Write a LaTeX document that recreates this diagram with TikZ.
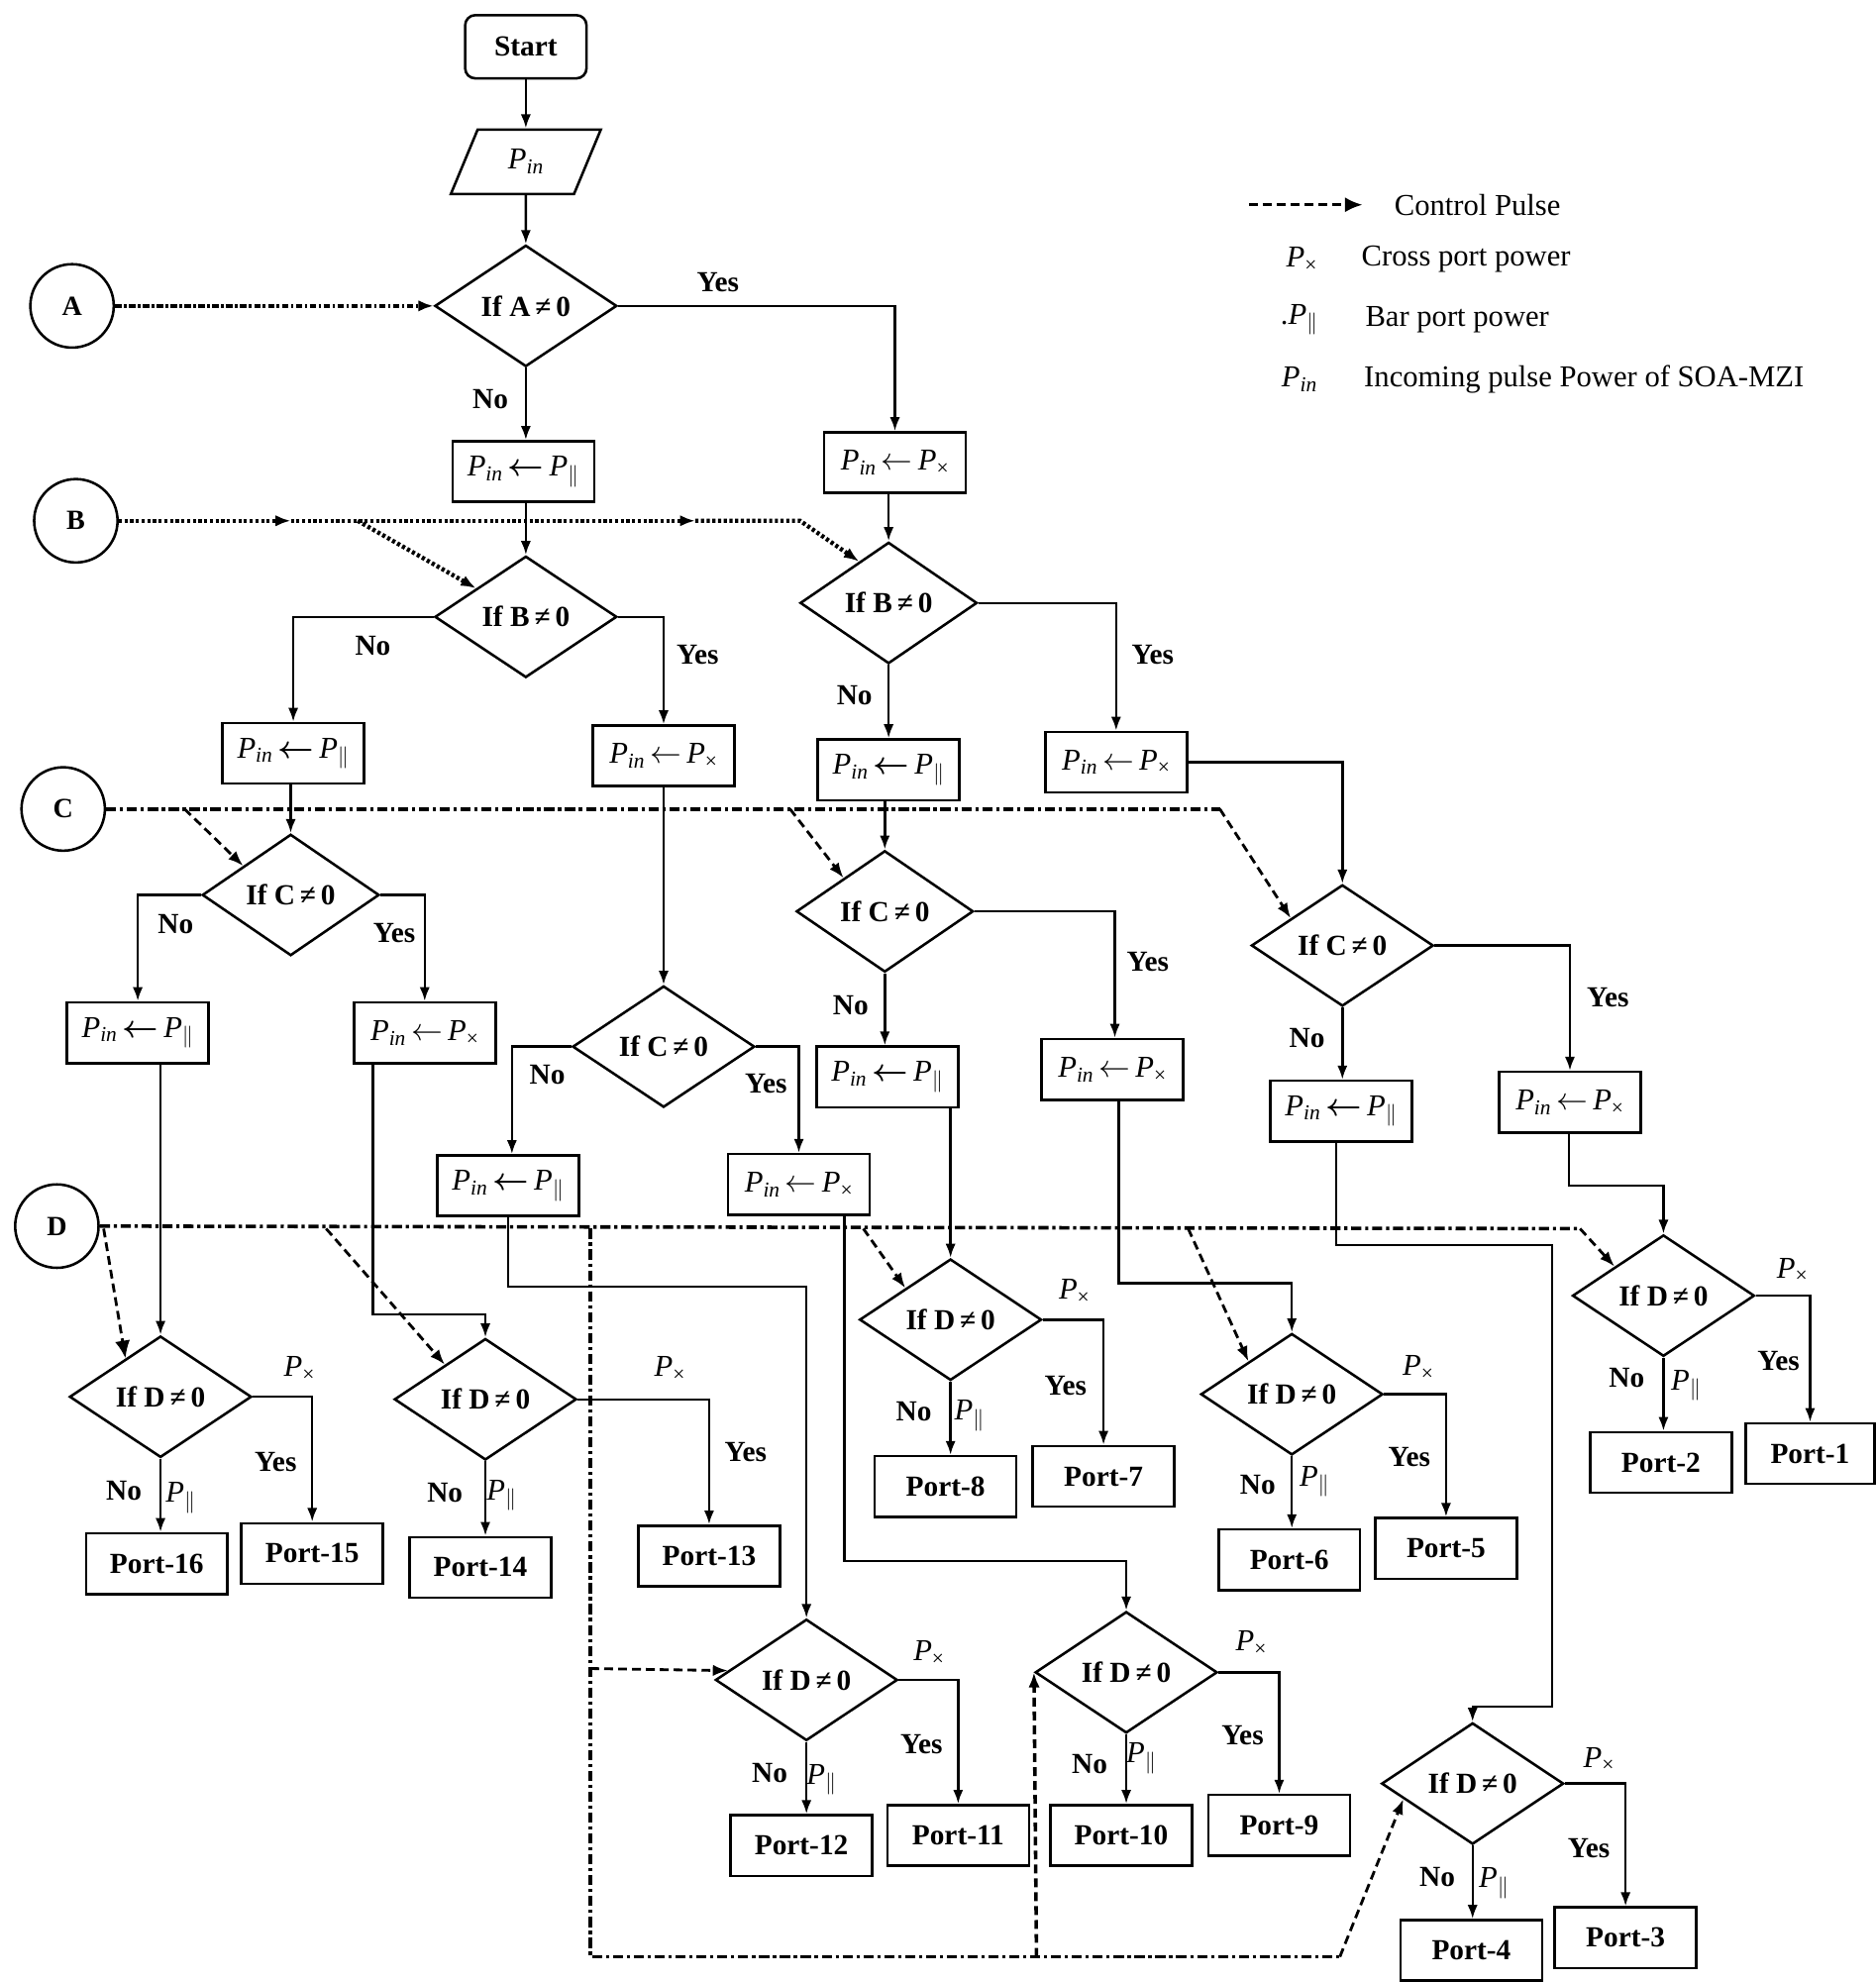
\documentclass[tikz,border=0pt]{standalone}
\usepackage{fontspec}
\setmainfont{Liberation Serif}
\usetikzlibrary{shapes.geometric,arrows.meta,calc}

% power symbols
\newcommand{\Pin}{\textit{P}\textsubscript{\textit{in}}}
\newcommand{\Pcr}{\textit{P}\textsubscript{×}}
\newcommand{\Pbr}{\textit{P}\textsubscript{$\|$}}
\newcommand{\asgx}{\Pin\,$\leftarrow$\,\Pcr}
\newcommand{\asgb}{\Pin\,{\boldmath$\leftarrow$}\,\Pbr}

\begin{document}
\begin{tikzpicture}[x=1pt,y=-1pt,
  lbl/.style={font=\fontsize{23}{26}\selectfont\bfseries,inner sep=1pt},
  sym/.style={font=\fontsize{24}{26}\selectfont,inner sep=1pt},
  tip/.style={-{Latex[length=11pt,width=8pt]}},
  flow/.style={line width=1.9pt,tip},
  proc/.style={draw,line width=2pt,minimum width=112pt,minimum height=48pt,inner sep=0pt,
    font=\fontsize{24}{26}\selectfont},
  port/.style={draw,line width=2pt,minimum width=112pt,minimum height=48pt,inner sep=0pt,
    font=\fontsize{23}{26}\selectfont\bfseries},
  dec/.style={draw,diamond,line width=2pt,minimum width=144pt,minimum height=96pt,inner sep=0pt,
    font=\fontsize{23}{26}\selectfont\bfseries},
  conn/.style={draw,circle,line width=2pt,minimum size=66pt,inner sep=0pt,
    font=\fontsize{22}{24}\selectfont\bfseries},
  ctrlA/.style={line width=3pt,dash pattern=on 5pt off 2pt on 2pt off 2pt},
  ctrlB/.style={line width=3.4pt,dash pattern=on 2.5pt off 2pt},
  ctrlC/.style={line width=2.8pt,dash pattern=on 8pt off 3pt on 2.5pt off 3pt},
  ctrlS/.style={line width=2.2pt,dash pattern=on 7pt off 4pt},
  ctip/.style={-{Latex[length=12pt,width=9pt]}},
]
\useasboundingbox (0,0) rectangle (1484,1568);

% ---------- legend ----------
\coordinate (lg0) at (988,162);
\coordinate (lg1) at (1078,162);
\draw[ctrlS,line width=2.6pt,-{Latex[length=14pt,width=12pt]}] (lg0) -- (lg1);
\node[sym,anchor=west] (lgt1) at (1102,162) {Control Pulse};
\node[sym] (lgs2) at (1030,205) {\Pcr};
\node[sym,anchor=west] (lgt2) at (1076,205) {Cross port power};
\node[sym] (lgs3) at (1028,253) {.\Pbr};
\node[sym,anchor=west] (lgt3) at (1079,253) {Bar port power};
\node[sym] (lgs4) at (1028,300) {\Pin};
\node[sym,anchor=west] (lgt4) at (1078,300) {Incoming pulse Power of SOA-MZI};

% ---------- top ----------
\node[draw,rounded corners=8pt,line width=2pt,minimum width=96pt,minimum height=50pt,
  font=\fontsize{23}{26}\selectfont\bfseries] (start) at (416,37) {Start};
\node[draw,trapezium,trapezium left angle=68,trapezium right angle=112,trapezium stretches=true,
  line width=2pt,minimum width=119pt,minimum height=51pt,inner sep=0pt,
  font=\fontsize{24}{26}\selectfont] (pin) at (416,128) {\Pin};

% connectors A..D
\node[conn] (cA) at (57,242) {A};
\node[conn] (cB) at (60,412) {B};
\node[conn] (cC) at (50,640) {C};
\node[conn] (cD) at (45,970) {D};

% ---------- decisions ----------
\node[dec] (dA) at (416,242) {If A\,≠\,0};
\node[dec] (dB1) at (416,488) {If B\,≠\,0};
\node[dec,minimum width=140pt] (dB2) at (703,477) {If B\,≠\,0};
\node[dec,minimum width=140pt] (dC1) at (230,708) {If C\,≠\,0};
\node[dec] (dC2) at (525,828) {If C\,≠\,0};
\node[dec,minimum width=140pt] (dC3) at (700,721) {If C\,≠\,0};
\node[dec] (dC4) at (1062,748) {If C\,≠\,0};
\node[dec] (dD16) at (127,1105) {If D\,≠\,0};
\node[dec] (dD14) at (384,1107) {If D\,≠\,0};
\node[dec] (dD12) at (638,1329) {If D\,≠\,0};
\node[dec] (dD10) at (891,1323) {If D\,≠\,0};
\node[dec] (dD8) at (752,1044) {If D\,≠\,0};
\node[dec] (dD6) at (1022,1103) {If D\,≠\,0};
\node[dec] (dD4) at (1165,1411) {If D\,≠\,0};
\node[dec] (dD2) at (1316,1025) {If D\,≠\,0};

% ---------- assignments ----------
\node[proc] (pAN) at (414,373) {\asgb};
\node[proc] (pAY) at (708,366) {\asgx};
\node[proc] (pB1N) at (232,596) {\asgb};
\node[proc] (pB1Y) at (525,598) {\asgx};
\node[proc] (pB2N) at (703,609) {\asgb};
\node[proc] (pB2Y) at (883,603) {\asgx};
\node[proc] (pC1N) at (109,817) {\asgb};
\node[proc] (pC1Y) at (336,817) {\asgx};
\node[proc] (pC2N) at (402,938) {\asgb};
\node[proc] (pC2Y) at (632,937) {\asgx};
\node[proc] (pC3N) at (702,852) {\asgb};
\node[proc] (pC3Y) at (880,846) {\asgx};
\node[proc] (pC4N) at (1061,879) {\asgb};
\node[proc] (pC4Y) at (1242,872) {\asgx};

% ---------- ports ----------
\node[port] (p16) at (124,1237) {Port-16};
\node[port] (p15) at (247,1229) {Port-15};
\node[port] (p14) at (380,1240) {Port-14};
\node[port] (p13) at (561,1231) {Port-13};
\node[port] (p12) at (634,1460) {Port-12};
\node[port] (p11) at (758,1452) {Port-11};
\node[port] (p10) at (887,1452) {Port-10};
\node[port] (p9) at (1012,1444) {Port-9};
\node[port] (p8) at (748,1176) {Port-8};
\node[port] (p7) at (873,1168) {Port-7};
\node[port] (p6) at (1020,1234) {Port-6};
\node[port] (p5) at (1144,1225) {Port-5};
\node[port] (p4) at (1164,1543) {Port-4};
\node[port] (p3) at (1286,1533) {Port-3};
\node[port] (p2) at (1314,1157) {Port-2};
\node[port,minimum width=102pt] (p1) at (1432,1150) {Port-1};

% ---------- flow connectors ----------
\draw[flow] (start) -- (pin);
\draw[flow] (pin) -- (dA);
\draw[flow] (dA.south) -- (pAN.north -| dA.south);
\draw[flow] (dA.east) -| (pAY.north);
\draw[flow] (pAN.south -| dB1.north) -- (dB1.north);
\draw[flow] (pAY.south -| dB2.north) -- (dB2.north);
\draw[flow] (dB1.west) -| (pB1N.north);
\draw[flow] (dB1.east) -| (pB1Y.north);
\draw[flow] (dB2.south) -- (pB2N.north -| dB2.south);
\draw[flow] (dB2.east) -| (pB2Y.north);
\draw[flow] (pB1N.south -| dC1.north) -- (dC1.north);
\draw[flow] (pB1Y.south -| dC2.north) -- (dC2.north);
\draw[flow] (pB2N.south -| dC3.north) -- (dC3.north);
\draw[flow] (pB2Y.east) -| (dC4.north);
\draw[flow] (dC1.west) -| (pC1N.north);
\draw[flow] (dC1.east) -| (pC1Y.north);
\draw[flow] (dC2.west) -| ([xshift=3pt]pC2N.north);
\draw[flow] (dC2.east) -| (pC2Y.north);
\draw[flow] (dC3.south) -- (pC3N.north -| dC3.south);
\draw[flow] (dC3.east) -| ([xshift=2pt]pC3Y.north);
\draw[flow] (dC4.south) -- (pC4N.north -| dC4.south);
\draw[flow] (dC4.east) -| (pC4Y.north);

% C outputs to D decisions
\coordinate (k14) at (384,1040);
\coordinate (k12) at (638,1018);
\coordinate (k10) at (891,1235);
\coordinate (k6) at (1022,1015);
\coordinate (k4a) at (1228,985);
\coordinate (k4b) at (1228,1350);
\coordinate (k2) at (1316,938);
\draw[flow] (pC1N.south -| dD16.north) -- (dD16.north);
\draw[flow] ([xshift=-41pt]pC1Y.south) |- (k14) -- (dD14.north);
\draw[flow] (pC2N.south) |- (k12) -- (dD12.north);
\draw[flow] ([xshift=36pt]pC2Y.south) |- (k10) -- (dD10.north);
\draw[flow] (pC3N.south -| dD8.north) -- (dD8.north);
\draw[flow] ([xshift=5pt]pC3Y.south) |- (k6) -- (dD6.north);
\draw[flow] ([xshift=-4pt]pC4N.south) |- (k4a) -- (k4b) -| (dD4.north);
\draw[flow] ([xshift=-1pt]pC4Y.south) |- (k2) -- (dD2.north);

% D decisions to ports
\foreach \d/\n/\y in {dD16/p16/p15, dD14/p14/p13, dD12/p12/p11, dD10/p10/p9,
                      dD8/p8/p7, dD6/p6/p5, dD4/p4/p3, dD2/p2/p1} {
  \draw[flow] (\d.south) -- (\n.north -| \d.south);
  \draw[flow] (\d.east) -| (\y.north);
}

% ---------- control pulses ----------
% A
\draw[ctrlA,ctip] (cA.east) -- (dA.west);
% B
\coordinate (b1) at (230,412);
\coordinate (bs) at (283,412);
\coordinate (b2) at (550,412);
\coordinate (b3) at (633,412);
\draw[ctrlB,ctip] (cB.east) -- (b1);
\draw[ctrlB,ctip] (b1) -- (b2);
\draw[ctrlB,ctip] (b2) -- (b3) -- ($(dB2.west)!0.67!(dB2.north)$);
\draw[ctrlB,ctip] (bs) -- ($(dB1.west)!0.46!(dB1.north)$);
% C
\coordinate (c1) at (146,640);
\coordinate (c3) at (625,640);
\coordinate (c4) at (965,640);
\draw[ctrlC] (cC.east) -- (c4);
\draw[ctrlS,ctip] (c1) -- ($(dC1.west)!0.47!(dC1.north)$);
\draw[ctrlS,ctip] (c3) -- ($(dC3.west)!0.54!(dC3.north)$);
\draw[ctrlS,ctip] (c4) -- ($(dC4.west)!0.44!(dC4.north)$);
% D
\coordinate (e16) at (82,972);
\coordinate (e14) at (258,972);
\coordinate (ev) at (467,972);
\coordinate (e8) at (683,972);
\coordinate (e6) at (940,972);
\coordinate (e2) at (1250,972);
\coordinate (ev12) at (467,1320);
\coordinate (evb) at (467,1548);
\coordinate (ev10) at (820,1548);
\coordinate (eh) at (1060,1548);
\draw[ctrlC] (cD.east) -- (e2);
\draw[ctrlS,-{Latex[length=14pt,width=12pt]}] (e16) -- ($(dD16.west)!0.62!(dD16.north)$);
\draw[ctrlS,ctip] (e14) -- ($(dD14.west)!0.56!(dD14.north)$);
\draw[ctrlS,ctip] (e8) -- ($(dD8.west)!0.51!(dD8.north)$);
\draw[ctrlS,ctip] (e6) -- ($(dD6.west)!0.53!(dD6.north)$);
\draw[ctrlS,ctip] (e2) -- ($(dD2.west)!0.47!(dD2.north)$);
\draw[ctrlC] (ev) -- (evb) -- (eh);
\draw[ctrlS,ctip] (eh) -- ($(dD4.west)!0.25!(dD4.south)$);
\draw[ctrlS,ctip] (ev12) -- ($(dD12.west)!0.15!(dD12.north)$);
\draw[ctrlS,line width=2.8pt,ctip] (ev10) -- (dD10.west);

% ---------- branch labels ----------
\node[lbl] (yA) at (568,223) {Yes};
\node[lbl] (nA) at (388,316) {No};
\node[lbl] (nB1) at (295,511) {No};
\node[lbl] (yB1) at (552,518) {Yes};
\node[lbl] (nB2) at (676,550) {No};
\node[lbl] (yB2) at (912,518) {Yes};
\node[lbl] (nC1) at (139,731) {No};
\node[lbl] (yC1) at (312,738) {Yes};
\node[lbl] (nC2) at (433,850) {No};
\node[lbl] (yC2) at (606,857) {Yes};
\node[lbl] (nC3) at (673,795) {No};
\node[lbl] (yC3) at (908,761) {Yes};
\node[lbl] (nC4) at (1034,821) {No};
\node[lbl] (yC4) at (1272,789) {Yes};

\foreach \k/\px/\py/\yx/\yy/\nx/\ny/\bx/\by in {
  16/237/1083/218/1157/98/1179/143/1185,
  14/530/1083/590/1149/352/1181/397/1183,
  12/735/1308/729/1380/609/1403/650/1408,
  10/990/1300/983/1373/862/1396/903/1391,
  8/850/1022/843/1096/723/1117/767/1120,
  6/1122/1082/1115/1153/995/1175/1040/1172,
  4/1265/1392/1257/1462/1137/1485/1182/1490,
  2/1418/1005/1407/1077/1287/1090/1334/1096} {
  \node[sym] (px\k) at (\px,\py) {\Pcr};
  \node[lbl] (yD\k) at (\yx,\yy) {Yes};
  \node[lbl] (nD\k) at (\nx,\ny) {No};
  \node[sym] (pb\k) at (\bx,\by) {\Pbr};
}
\end{tikzpicture}
\end{document}
